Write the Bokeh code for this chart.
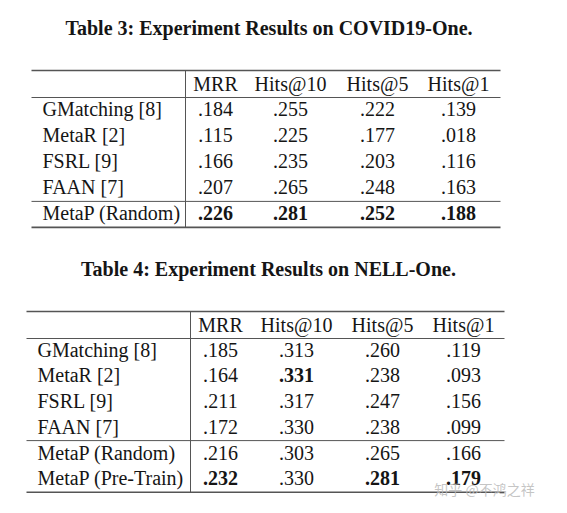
from bokeh.plotting import figure
from bokeh.models import Range1d
from bokeh.core.properties import value
from bokeh.embed import file_html
from bokeh.resources import INLINE

col_names = ["MRR", "Hits@10", "Hits@5", "Hits@1"]

# Table 3: COVID19-One
t3_methods = ["GMatching [8]", "MetaR [2]", "FSRL [9]", "FAAN [7]", "MetaP (Random)"]
t3_mrr = [0.184, 0.115, 0.166, 0.207, 0.226]
t3_h10 = [0.255, 0.225, 0.235, 0.265, 0.281]
t3_h5 = [0.222, 0.177, 0.203, 0.248, 0.252]
t3_h1 = [0.139, 0.018, 0.116, 0.163, 0.188]

# Table 4: NELL-One
t4_methods = ["GMatching [8]", "MetaR [2]", "FSRL [9]", "FAAN [7]",
              "MetaP (Random)", "MetaP (Pre-Train)"]
t4_mrr = [0.185, 0.164, 0.211, 0.172, 0.216, 0.232]
t4_h10 = [0.313, 0.331, 0.317, 0.330, 0.303, 0.330]
t4_h5 = [0.260, 0.238, 0.247, 0.238, 0.265, 0.281]
t4_h1 = [0.119, 0.093, 0.156, 0.099, 0.166, 0.179]

SERIF = "Liberation Serif"
INK = "#151515"
RULE = "#555555"

p = figure(width=551, height=497, output_backend="svg", toolbar_location=None,
           x_range=Range1d(0, 551), y_range=Range1d(497, 0), min_border=0)
p.axis.visible = False
p.grid.visible = False
p.outline_line_color = None
p.background_fill_color = "white"


def fmt(v):
    return ("%.3f" % v)[1:]


def draw_table(title, title_y, top, methods, cols, n_base, row_h,
               x_left, x_right, x_v, x_lab, x_cols):
    p.text(x=[(x_left + x_right) / 2 + 3], y=[title_y], text=[title],
           text_font=value(SERIF), text_font_style="bold", text_font_size="20px",
           text_align="center", text_baseline="middle", text_color=INK)

    head_line = top + 27
    base_y = [top + 38 + row_h * i for i in range(n_base)]
    sep = base_y[-1] + 14
    ext_y = [sep + 12 + row_h * i for i in range(len(methods) - n_base)]
    rows_y = base_y + ext_y
    bottom = rows_y[-1] + 14

    # horizontal rules
    p.segment(x0=[x_left, x_left], y0=[top, bottom], x1=[x_right, x_right],
              y1=[top, bottom], line_color=RULE, line_width=1.6)
    p.segment(x0=[x_left, x_left], y0=[head_line, sep], x1=[x_right, x_right],
              y1=[head_line, sep], line_color=RULE, line_width=1)
    # vertical rule
    p.segment(x0=[x_v], y0=[top], x1=[x_v], y1=[bottom], line_color=RULE, line_width=1)

    # header
    p.text(x=x_cols, y=[top + 13] * len(col_names), text=col_names,
           text_font=value(SERIF), text_font_size="20px", text_align="center",
           text_baseline="middle", text_color=INK)
    # method labels
    p.text(x=[x_lab] * len(methods), y=rows_y, text=methods,
           text_font=value(SERIF), text_font_size="20px", text_align="left",
           text_baseline="middle", text_color=INK)
    # values, best of each column in bold
    for xc, vals in zip(x_cols, cols):
        best = max(vals)
        for yy, v in zip(rows_y, vals):
            p.text(x=[xc], y=[yy], text=[fmt(v)], text_font=value(SERIF),
                   text_font_size="20px", text_align="center", text_baseline="middle",
                   text_color=INK, text_font_style="bold" if v == best else "normal")


draw_table("Table 3: Experiment Results on COVID19-One.", 27, 70, t3_methods,
           [t3_mrr, t3_h10, t3_h5, t3_h1], 4, 26.3,
           31, 500, 185, 42, [215, 290, 377, 458])
draw_table("Table 4: Experiment Results on NELL-One.", 268, 311, t4_methods,
           [t4_mrr, t4_h10, t4_h5, t4_h1], 4, 25.7,
           26, 504, 190, 37, [220, 296, 382, 463])

# watermark
p.text(x=[484], y=[488], text=["知乎 @不鸿之祥"], text_font=value("Noto Sans CJK SC"),
       text_font_size="14px", text_align="center", text_baseline="middle",
       text_color="#bbbbbb", text_alpha=0.85)

open("out.html", "w").write(file_html(p, INLINE))
